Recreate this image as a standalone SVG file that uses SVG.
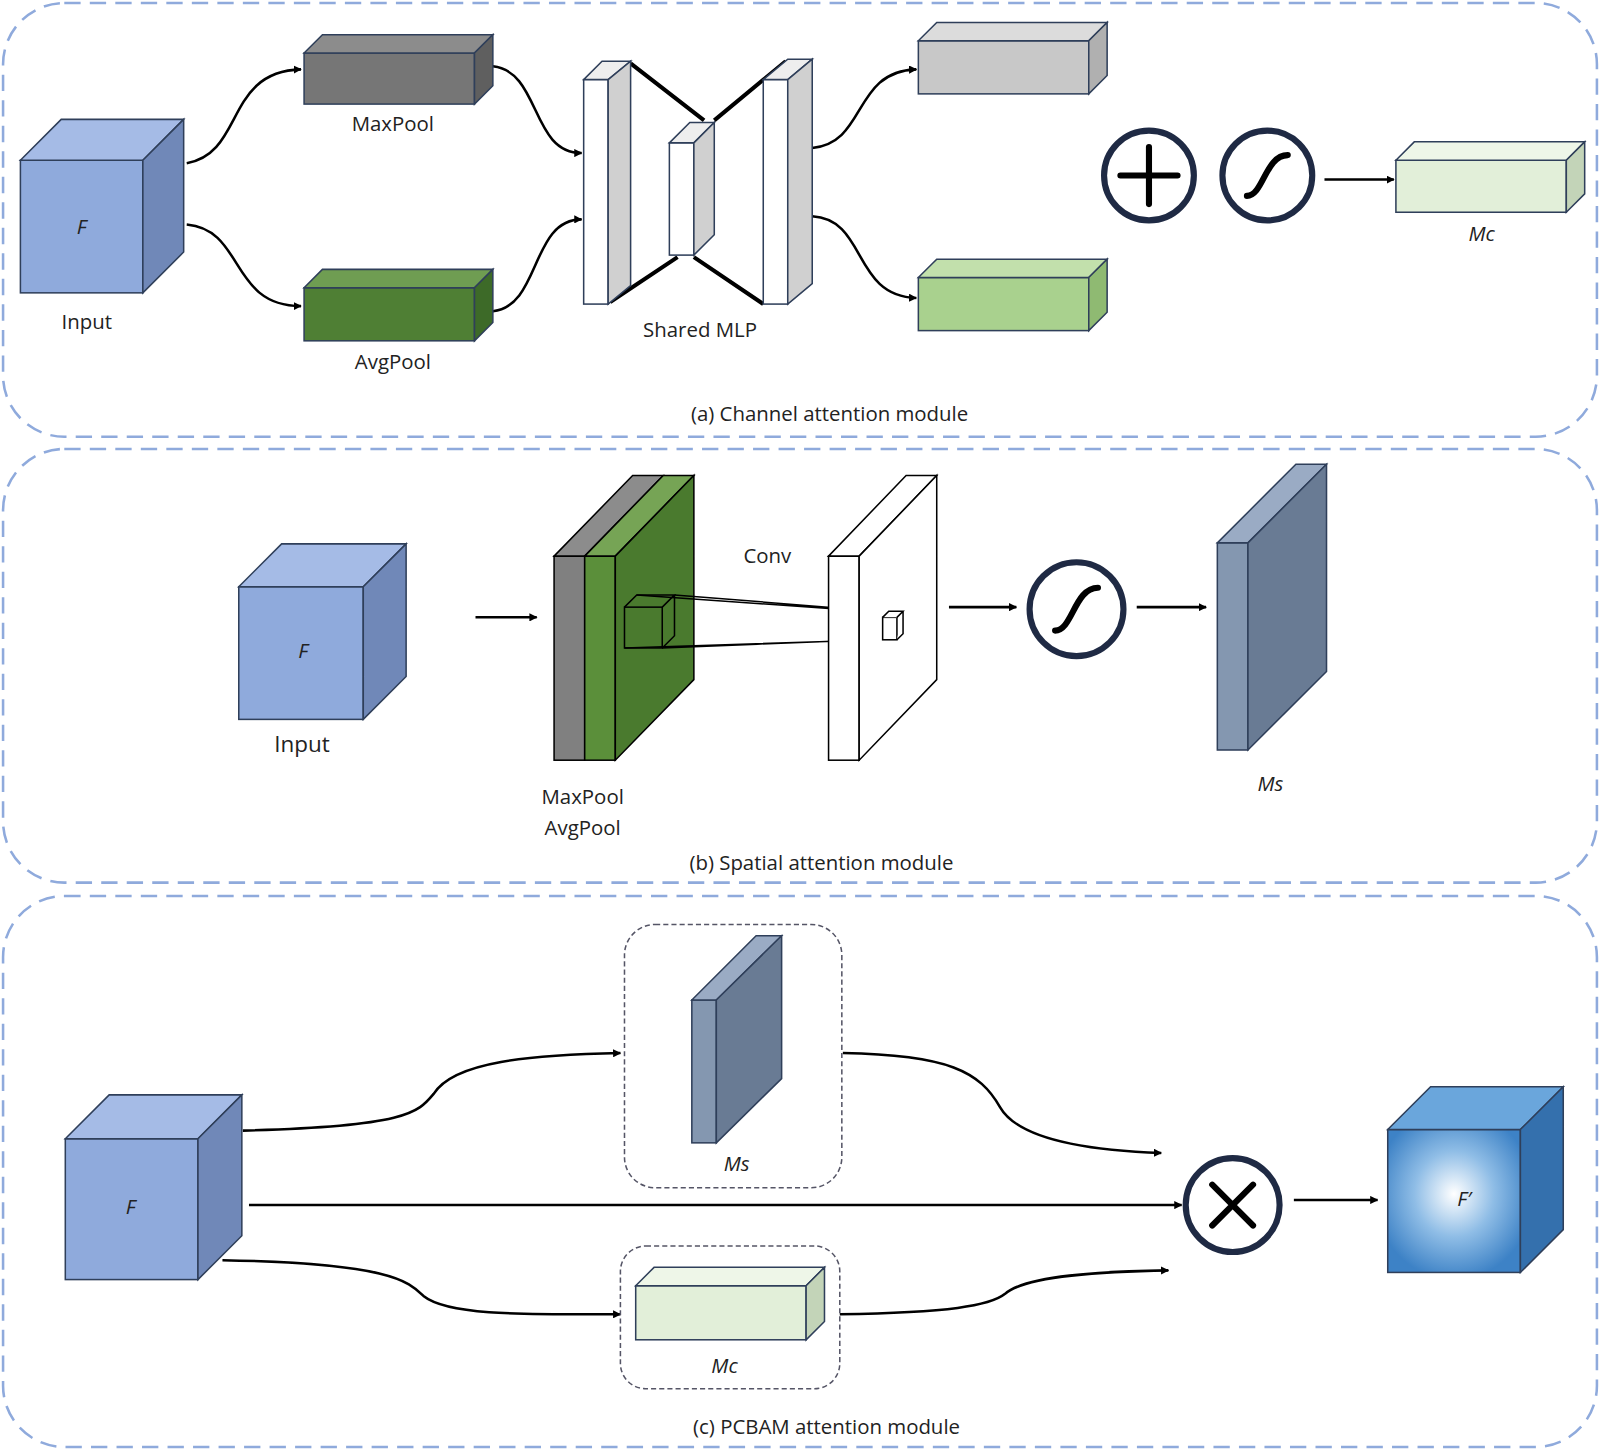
<svg xmlns="http://www.w3.org/2000/svg" width="1600" height="1451" viewBox="0 0 1600 1451">
<defs>
<marker id="ah" viewBox="0 0 10 10" refX="9" refY="5" markerWidth="8" markerHeight="8" orient="auto" markerUnits="userSpaceOnUse"><path d="M0,0 L10,5 L0,10 Z" fill="#000"/></marker>
<marker id="ah2" viewBox="0 0 10 10" refX="9" refY="5" markerWidth="12" markerHeight="12" orient="auto" markerUnits="userSpaceOnUse"><path d="M0,0 L10,5 L0,10 Z" fill="#000"/></marker>
<radialGradient id="fg" cx="0.5" cy="0.45" r="0.6"><stop offset="0" stop-color="#ffffff"/><stop offset="0.5" stop-color="#8fbde6"/><stop offset="1" stop-color="#3d82c6"/></radialGradient>
<style>
.panel{fill:none;stroke:#8faadc;stroke-width:2.5;stroke-dasharray:16 9}
.dash{fill:none;stroke:#556;stroke-width:1.5;stroke-dasharray:5 3}
.e{stroke:#2f3f5a;stroke-width:1.5}
.k{stroke:#000;stroke-width:1.5}
.t{font-family:"Open Sans","Noto Sans",sans-serif;font-size:20px;fill:#222;text-anchor:middle}
.i{font-style:italic}
.c{fill:none;stroke:#000;stroke-width:2.5}
.circ{fill:#fff;stroke:#1f2a44;stroke-width:6}
.sym{fill:none;stroke:#000;stroke-width:6;stroke-linecap:round}
</style>
</defs>
<rect width="1600" height="1451" fill="#fff"/>
<g transform="scale(1.0204)">
<rect class="panel" x="3" y="3" width="1562" height="425" rx="60"/>
<rect class="panel" x="3" y="440" width="1562" height="425" rx="60"/>
<rect class="panel" x="3" y="878" width="1562" height="540" rx="60"/>

<g id="connectors">
<path class="c" d="M183,160 C240,150 220,70 295,68" marker-end="url(#ah)"/>
<path class="c" d="M183,220 C240,225 225,300 295,300" marker-end="url(#ah)"/>
<path class="c" d="M483,65 C530,70 520,150 570,150" marker-end="url(#ah)"/>
<path class="c" d="M483,305 C530,300 520,215 570,215" marker-end="url(#ah)"/>
<path class="c" d="M796,145 C850,140 835,70 898,68" marker-end="url(#ah)"/>
<path class="c" d="M796,212 C850,215 835,290 898,292" marker-end="url(#ah)"/>
<path class="c" d="M1298,176 L1366,176" marker-end="url(#ah)"/>
<path class="c" d="M466,605 L526,605" marker-end="url(#ah)"/>
<path class="c" d="M930,595 L996,595" marker-end="url(#ah)"/>
<path class="c" d="M1114,595 L1182,595" marker-end="url(#ah)"/>
<path class="c" d="M238,1108 C400,1104 410,1090 425,1072 C445,1040 520,1034 608,1032" marker-end="url(#ah)"/>
<path class="c" d="M826,1032 C930,1034 960,1050 980,1085 C1000,1120 1080,1128 1138,1130" marker-end="url(#ah)"/>
<path class="c" d="M218,1235 C380,1238 400,1255 415,1270 C440,1290 520,1288 608,1288" marker-end="url(#ah)"/>
<path class="c" d="M823,1288 C930,1286 970,1280 985,1268 C1005,1250 1080,1246 1145,1245" marker-end="url(#ah)"/>
<path class="c" d="M244,1181 L1158,1181" marker-end="url(#ah)"/>
<path class="c" d="M1268,1176 L1350,1176" marker-end="url(#ah)"/>
</g>

<g id="a-input">
<rect x="20" y="157" width="120" height="130" fill="#8faadc" class="e"/>
<polygon points="20,157 60,117 180,117 140,157" fill="#a5bbe6" class="e"/>
<polygon points="140,157 180,117 180,247 140,287" fill="#7088b8" class="e"/>
<text class="t i" x="80" y="229">F</text>
<text class="t" x="85" y="322">Input</text>
</g>
<g id="maxpool">
<rect x="298" y="52" width="167" height="50" fill="#767676" class="e"/>
<polygon points="298,52 316,34 483,34 465,52" fill="#8c8c8c" class="e"/>
<polygon points="465,52 483,34 483,84 465,102" fill="#5f5f5f" class="e"/>
<text class="t" x="385" y="128">MaxPool</text>
</g>
<g id="avgpool">
<rect x="298" y="282" width="167" height="52" fill="#4f7f34" class="e"/>
<polygon points="298,282 316,264 483,264 465,282" fill="#6f9d52" class="e"/>
<polygon points="465,282 483,264 483,316 465,334" fill="#3d6a28" class="e"/>
<text class="t" x="385" y="362">AvgPool</text>
</g>
<g id="mlp">
<path d="M618,62 L690,118 M700,118 L770,60 M598,296 L664,252 M680,252 L748,298" stroke="#000" stroke-width="4"/>
<rect x="572" y="78" width="24" height="220" fill="#fff" class="e"/>
<polygon points="572,78 590,60 618,60 596,78" fill="#eee" class="e"/>
<polygon points="596,78 618,60 618,280 596,298" fill="#d0d0d0" class="e"/>
<rect x="656" y="140" width="24" height="110" fill="#fff" class="e"/>
<polygon points="656,140 676,120 700,120 680,140" fill="#eee" class="e"/>
<polygon points="680,140 700,120 700,230 680,250" fill="#d0d0d0" class="e"/>
<rect x="748" y="78" width="24" height="220" fill="#fff" class="e"/>
<polygon points="748,78 772,58 796,58 772,78" fill="#eee" class="e"/>
<polygon points="772,78 796,58 796,278 772,298" fill="#d0d0d0" class="e"/>
<text class="t" x="686" y="330">Shared MLP</text>
</g>
<g id="out-gray">
<rect x="900" y="40" width="167" height="52" fill="#c8c8c8" class="e"/>
<polygon points="900,40 918,22 1085,22 1067,40" fill="#dcdcdc" class="e"/>
<polygon points="1067,40 1085,22 1085,74 1067,92" fill="#b0b0b0" class="e"/>
</g>
<g id="out-green">
<rect x="900" y="272" width="167" height="52" fill="#a9d18e" class="e"/>
<polygon points="900,272 918,254 1085,254 1067,272" fill="#c2e0ac" class="e"/>
<polygon points="1067,272 1085,254 1085,306 1067,324" fill="#8fba72" class="e"/>
</g>
<g id="plus">
<circle class="circ" cx="1126" cy="172" r="44"/>
<path class="sym" d="M1126,144 V200 M1098,172 H1154"/>
</g>
<g id="sig-a">
<circle class="circ" cx="1242" cy="172" r="44"/>
<path class="sym" d="M1222,192 C1238,192 1240,152 1262,152"/>
</g>
<g id="mc-a">
<rect x="1368" y="157" width="167" height="51" fill="#e2efd9" class="e"/>
<polygon points="1368,157 1386,139 1553,139 1535,157" fill="#eef6e8" class="e"/>
<polygon points="1535,157 1553,139 1553,190 1535,208" fill="#c3d4b8" class="e"/>
<text class="t i" x="1452" y="236">Mc</text>
</g>
<text class="t" x="813" y="413">(a) Channel attention module</text>

<g id="b-input">
<rect x="234" y="575" width="122" height="130" fill="#8faadc" class="e"/>
<polygon points="234,575 276,533 398,533 356,575" fill="#a5bbe6" class="e"/>
<polygon points="356,575 398,533 398,663 356,705" fill="#7088b8" class="e"/>
<text class="t i" x="297" y="645">F</text>
<text class="t" x="296" y="737" style="font-size:22px">Input</text>
</g>
<g id="pool-stack">
<rect x="543" y="545" width="30" height="200" fill="#808080" class="k"/>
<polygon points="543,545 620,466 650,466 573,545" fill="#8c8c8c" class="k"/>
<rect x="573" y="545" width="30" height="200" fill="#5b8f3a" class="k"/>
<polygon points="573,545 650,466 680,466 603,545" fill="#76a455" class="k"/>
<polygon points="603,545 680,466 680,666 603,745" fill="#4a7a2e" class="k"/>
<rect x="612" y="595" width="37" height="40" fill="none" class="k"/>
<path d="M612,595 L624,583 L661,583 L649,595 M661,583 L661,623 L649,635" fill="none" class="k"/>
<path d="M624,583 L878,601 M661,583 L885,601 M612,635 L865,627 M649,635 L878,626" class="k"/>
<text class="t" x="571" y="788">MaxPool</text>
<text class="t" x="571" y="818">AvgPool</text>
</g>
<g id="conv">
<rect x="812" y="545" width="30" height="200" fill="#fff" class="k"/>
<polygon points="812,545 888,466 918,466 842,545" fill="#fff" class="k"/>
<polygon points="842,545 918,466 918,666 842,745" fill="#fff" class="k"/>
<rect x="865" y="605" width="14" height="22" fill="#fff" class="k"/>
<path d="M865,605 L871,599 L885,599 L879,605 M885,599 L885,621 L879,627" fill="#fff" class="k"/>
<text class="t" x="752" y="552">Conv</text>
</g>
<g id="sig-b">
<circle class="circ" cx="1055" cy="597" r="46"/>
<path class="sym" d="M1034,618 C1051,618 1053,576 1076,576"/>
</g>
<g id="ms-b">
<rect x="1193" y="532" width="30" height="203" fill="#8497b0" class="e"/>
<polygon points="1193,532 1270,455 1300,455 1223,532" fill="#9aabc4" class="e"/>
<polygon points="1223,532 1300,455 1300,658 1223,735" fill="#697b94" class="e"/>
<text class="t i" x="1245" y="775">Ms</text>
</g>
<text class="t" x="805" y="853">(b) Spatial attention module</text>

<g id="c-input">
<rect x="64" y="1116" width="130" height="138" fill="#8faadc" class="e"/>
<polygon points="64,1116 107,1073 237,1073 194,1116" fill="#a5bbe6" class="e"/>
<polygon points="194,1116 237,1073 237,1211 194,1254" fill="#7088b8" class="e"/>
<text class="t i" x="128" y="1190">F</text>
</g>
<g id="ms-c">
<rect class="dash" x="612" y="906" width="213" height="258" rx="30"/>
<rect x="678" y="980" width="24" height="140" fill="#8497b0" class="e"/>
<polygon points="678,980 741,917 766,917 702,980" fill="#9aabc4" class="e"/>
<polygon points="702,980 766,917 766,1057 702,1120" fill="#697b94" class="e"/>
<text class="t i" x="722" y="1148">Ms</text>
</g>
<g id="mc-c">
<rect class="dash" x="608" y="1221" width="215" height="140" rx="25"/>
<rect x="623" y="1260" width="167" height="53" fill="#e2efd9" class="e"/>
<polygon points="623,1260 641,1242 808,1242 790,1260" fill="#eef6e8" class="e"/>
<polygon points="790,1260 808,1242 808,1295 790,1313" fill="#c3d4b8" class="e"/>
<text class="t i" x="710" y="1346">Mc</text>
</g>
<g id="mult">
<circle class="circ" cx="1208" cy="1181" r="46"/>
<path class="sym" d="M1188,1161 L1228,1201 M1228,1161 L1188,1201"/>
</g>
<g id="fprime">
<rect x="1360" y="1107" width="130" height="140" fill="url(#fg)" class="e"/>
<polygon points="1360,1107 1402,1065 1532,1065 1490,1107" fill="#6aa6dc" class="e"/>
<polygon points="1490,1107 1532,1065 1532,1205 1490,1247" fill="#3470ad" class="e"/>
<text class="t i" x="1435" y="1182">F′</text>
</g>
<text class="t" x="810" y="1405">(c) PCBAM attention module</text>
</g>
</svg>
